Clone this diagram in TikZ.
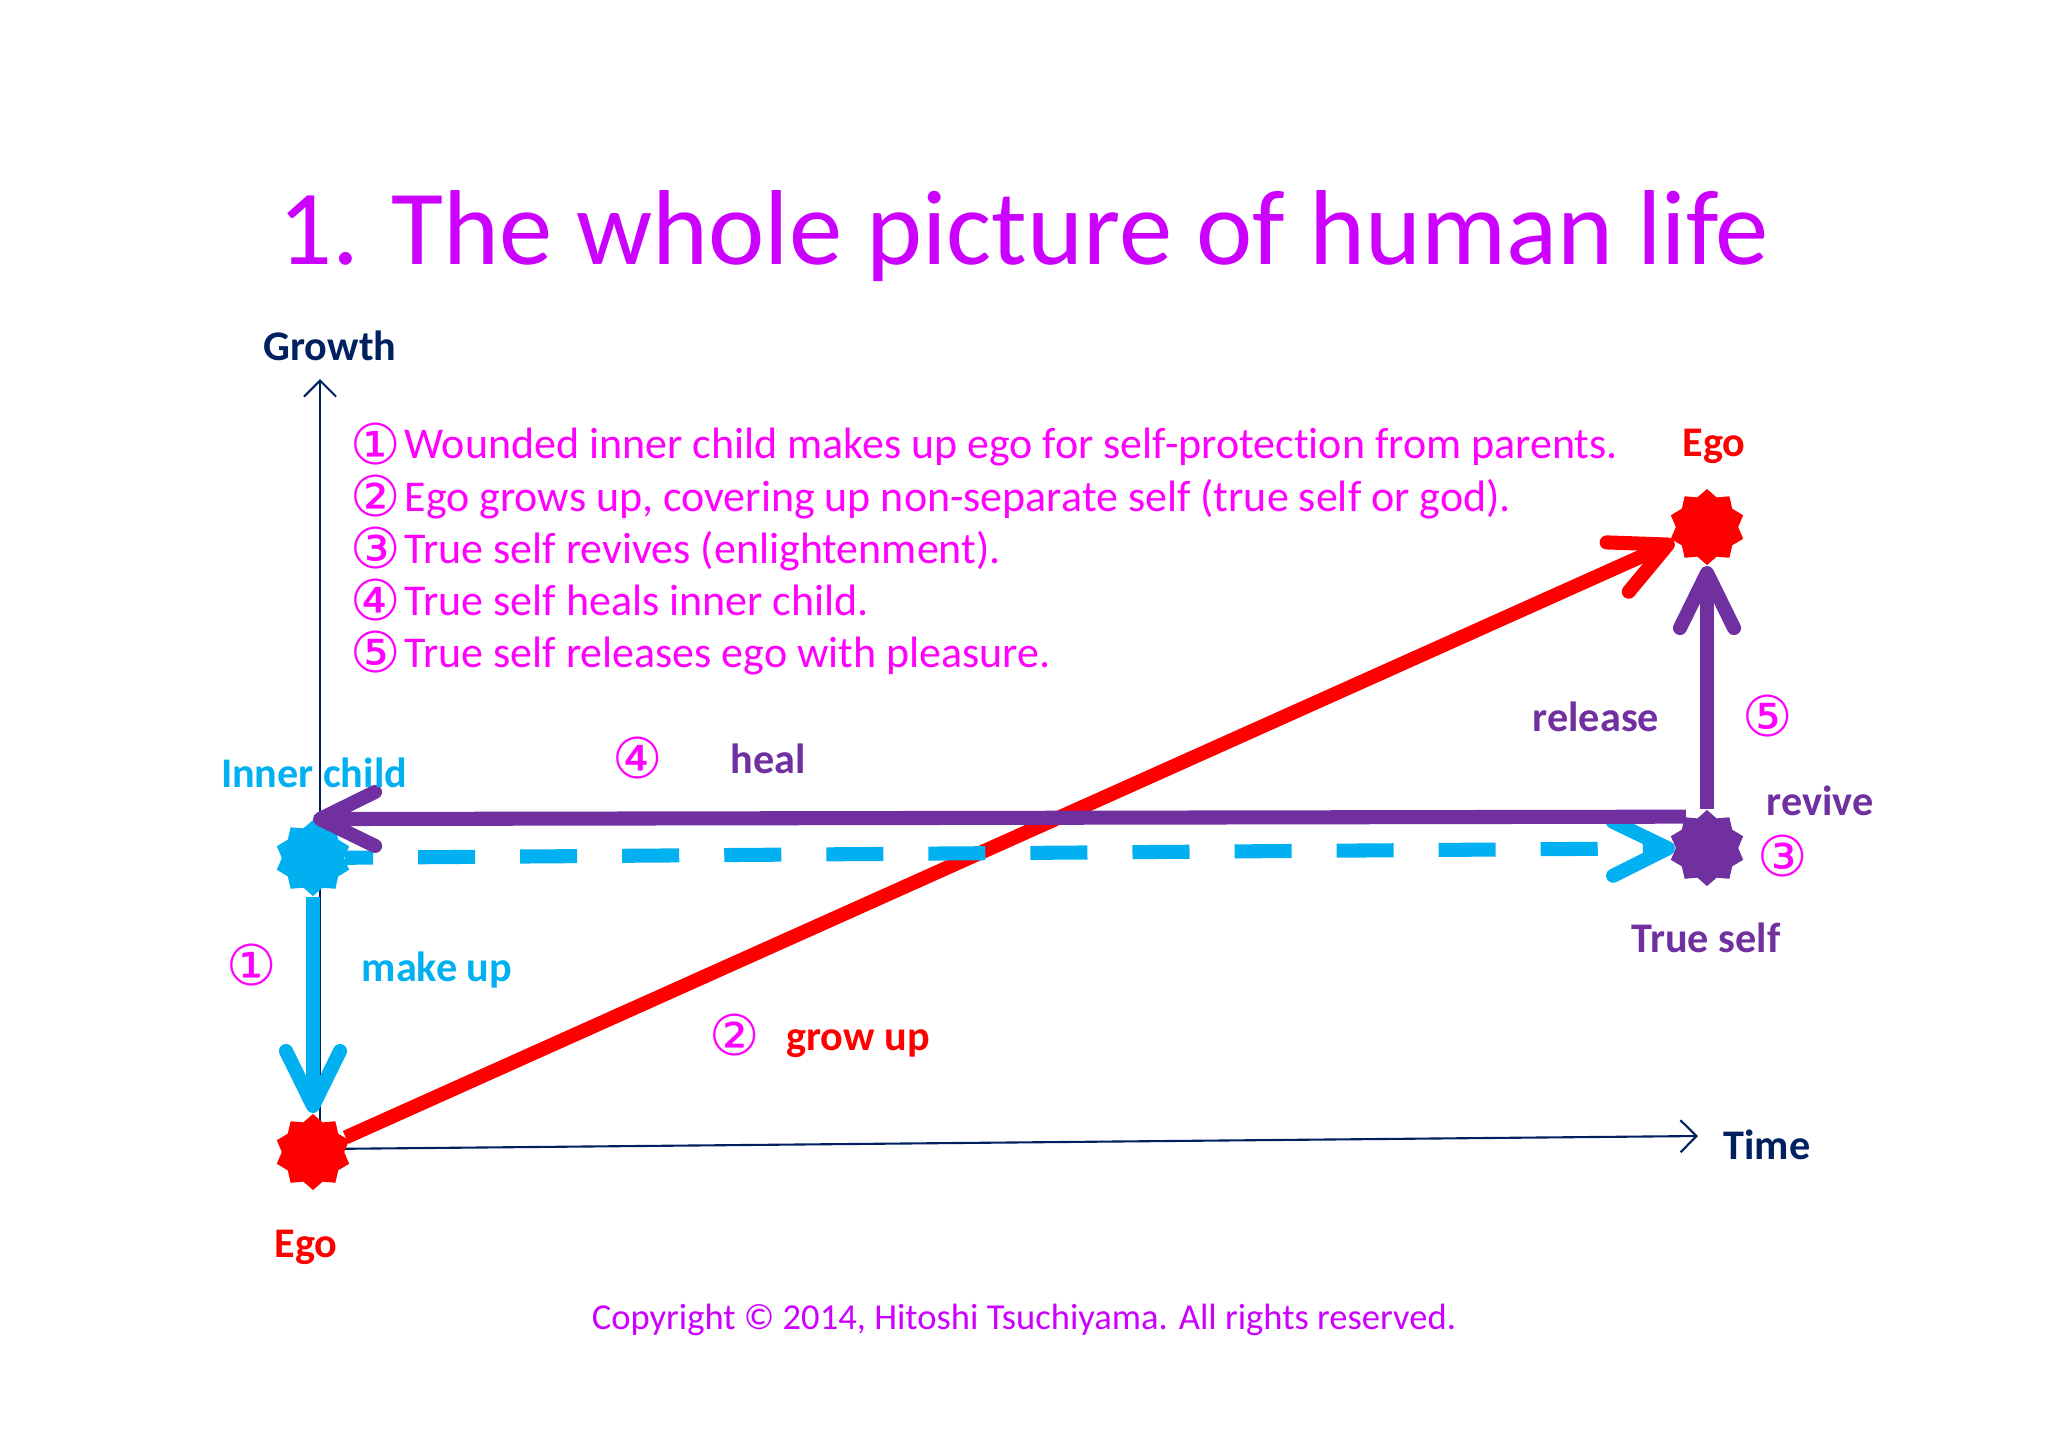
\documentclass[tikz,border=0pt]{standalone}
\usepackage{fontspec}
\setmainfont{Carlito}[Ligatures=NoCommon]
\newfontfamily\circfont{DejaVu Sans}
\usetikzlibrary{positioning, arrows.meta, shapes.geometric}

\definecolor{titlepurple}{HTML}{CC00FF}
\definecolor{listpink}{HTML}{FF00FF}
\definecolor{childblue}{HTML}{00B0F0}
\definecolor{selfpurple}{HTML}{7030A0}
\definecolor{egored}{HTML}{FF0000}
\definecolor{axisnavy}{HTML}{002060}

% circled step numbers
\newcommand{\cnum}[1]{\raisebox{-1.5pt}{\circfont\fontsize{16}{14}\selectfont #1}\hspace{1pt}}

\begin{document}
\begin{tikzpicture}[
        x=0.01cm, y=-0.01cm,
        seal/.style={star, star points=10, star point ratio=1.22, minimum size=0.76cm, inner sep=0pt},
        lbl/.style={font=\fontsize{12}{14}\selectfont\bfseries, inner sep=0pt},
        num/.style={font=\circfont\fontsize{16}{14}\selectfont, text=listpink, inner sep=0pt},
        axis/.style={line width=0.6pt, draw=axisnavy, -{Straight Barb[length=1.6mm, width=3.2mm]}},
        flow/.style={line width=4pt, -{Straight Barb[length=5.5mm, width=5.4mm, round]}}
    ]
    \useasboundingbox[fill=white] (0,0) rectangle (2048,1447);

    \node[font=\fontsize{30.3}{36}\selectfont, text=titlepurple, anchor=base] (title) at (1024,264) {1. The whole picture of human life};

    % axes
    \coordinate (origin) at (320,1149);
    \coordinate (ytop) at (320,379);
    \coordinate (xend) at (1698,1136);
    \draw[axis] (origin) -- (ytop);
    \draw[axis] (origin) -- (xend);
    \node[lbl, text=axisnavy] (growth) at (330,346) {Growth};
    \node[lbl, text=axisnavy] (time) at (1767,1145) {Time};

    \node[font=\fontsize{12.5}{14.8}\selectfont, text=listpink, anchor=north west, align=left, inner sep=0pt] (steps) at (350,422) {%
        \cnum{①}Wounded inner child makes up ego for self-protection from parents.\\
        \cnum{②}Ego grows up, covering up non-separate self (true self or god).\\
        \cnum{③}True self revives (enlightenment).\\
        \cnum{④}True self heals inner child.\\
        \cnum{⑤}True self releases ego with pleasure.};

    % stages
    \node[seal, fill=childblue] (inner) at (313,858) {};
    \node[seal, fill=egored] (egolow) at (313,1152) {};
    \node[seal, fill=selfpurple] (trueself) at (1707,848) {};
    \node[seal, fill=egored] (egohigh) at (1707,527) {};

    \draw[flow, childblue] (inner) -- (egolow);
    \draw[flow, egored] (egolow) -- (egohigh);
    \draw[flow, childblue, dash pattern=on 0.57cm off 0.45cm, dash phase=0.29cm] (inner) -- (trueself);
    \draw[flow, selfpurple] (trueself.124) -- (inner.north);
    \draw[flow, selfpurple] (trueself) -- (egohigh);

    % labels
    \node[lbl, text=childblue] (innertext) at (314,773) {Inner child};
    \node[lbl, text=egored] (egolowtext) at (306,1247) {Ego};
    \node[lbl, text=egored] (egohightext) at (1714,446) {Ego};
    \node[lbl, text=selfpurple] (selftext) at (1706,938) {True self};
    \node[lbl, text=childblue] (makeup) at (437,970) {make up};
    \node[num] (n1) at (252,965) {①};
    \node[lbl, text=egored] (growup) at (858,1044) {grow up};
    \node[num] (n2) at (735,1035) {②};
    \node[lbl, text=selfpurple] (heal) at (768,759) {heal};
    \node[num] (n4) at (638,758) {④};
    \node[lbl, text=selfpurple] (release) at (1596,717) {release};
    \node[num] (n5) at (1768,716) {⑤};
    \node[lbl, text=selfpurple] (revive) at (1820,801) {revive};
    \node[num] (n3) at (1783,856) {③};

    \node[font=\fontsize{10.4}{13}\selectfont, text=titlepurple] (copy) at (1024,1320) {Copyright © 2014, Hitoshi Tsuchiyama. All rights reserved.};
\end{tikzpicture}
\end{document}
